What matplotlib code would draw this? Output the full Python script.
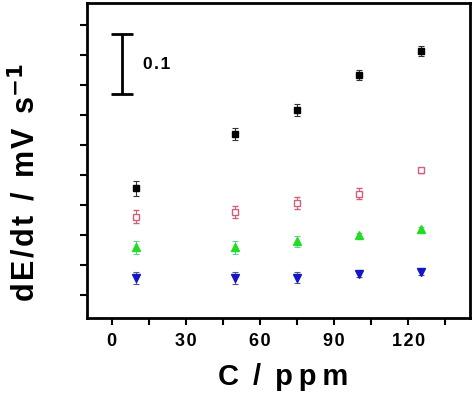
import numpy as np
import matplotlib
matplotlib.use("Agg")
import matplotlib.pyplot as plt

plt.rcParams['font.family'] = ['Liberation Sans', 'DejaVu Sans']
plt.rcParams['font.weight'] = 'bold'
plt.rcParams['mathtext.default'] = 'bf'

TS = '\u2009'  # thin space, the original labels are letter-spaced
HS = '\u200a'  # hair space

# concentration (ppm)
conc = [10, 50, 75, 100, 125]

# dE/dt values (arbitrary offset, scale bar = 0.1)
black_sq = [0.228, 0.318, 0.358, 0.417, 0.457]
black_err = [0.012, 0.010, 0.010, 0.009, 0.008]
red_sq = [0.181, 0.189, 0.204, 0.219, 0.258]
red_err = [0.011, 0.010, 0.010, 0.009, 0.004]
green_up = [0.130, 0.130, 0.140, 0.150, 0.160]
green_err = [0.011, 0.011, 0.009, 0.004, 0.004]
blue_dn = [0.079, 0.079, 0.079, 0.085, 0.088]
blue_err = [0.010, 0.010, 0.009, 0.005, 0.005]

xticks = [0, 30, 60, 90, 120]
xtick_labels = ['0', '30', '60', '90', '120']

fig = plt.figure(figsize=(4.74, 3.94), dpi=100)
ax = fig.add_axes([0.1835, 0.1929, 0.8081, 0.7995])

ax.errorbar(conc, black_sq, yerr=black_err, fmt='s', color='black', ms=5,
            ecolor='#333333', elinewidth=0.8, capsize=2.5, capthick=0.8)
ax.errorbar(conc, red_sq, yerr=red_err, fmt='s', mfc='white', mec='#d0607a', ms=5,
            mew=1.0, ecolor='#d0607a', elinewidth=0.8, capsize=2.5, capthick=0.8)
ax.errorbar(conc, green_up, yerr=green_err, fmt='^', color='#22dd22', ms=6,
            ecolor='#66cc99', elinewidth=0.8, capsize=2.5, capthick=0.8)
ax.errorbar(conc, blue_dn, yerr=blue_err, fmt='v', color='#1515c8', ms=6,
            ecolor='#555588', elinewidth=0.8, capsize=2.5, capthick=0.8)

# scale bar
ax.errorbar([4.3], [0.435], yerr=[0.05], fmt='none', ecolor='black',
            elinewidth=2, capsize=8, capthick=2)
ax.text(12.5, 0.435, HS.join('0.1'), fontsize=12.5, fontweight='bold',
        va='center', ha='left')

ax.set_xlim(-10, 145)
ax.set_ylim(0.012, 0.537)
ax.set_xticks(xticks)
ax.set_xticklabels([HS.join(t) for t in xtick_labels])
ax.set_xticks([15, 45, 75, 105, 135], minor=True)
ax.set_yticks(np.arange(0.05, 0.51, 0.05))
ax.set_yticklabels([])

for s in ax.spines.values():
    s.set_linewidth(2)
ax.tick_params(axis='both', which='both', direction='out', length=5, width=1.5,
               labelsize=13)
ax.tick_params(axis='x', pad=6)

ax.set_xlabel(TS.join('C') + ' ' + TS + '/' + TS + ' ' + TS.join('ppm'),
              fontsize=21, fontweight='bold')
ax.xaxis.set_label_coords(0.512, -0.143)
ylab = HS.join('dE/dt') + ' ' + TS + '/' + TS + ' ' + HS.join('mV') + ' ' + TS + 's'
ax.set_ylabel(ylab + r'$^{-1}$', fontsize=22, fontweight='bold')
ax.yaxis.set_label_coords(-0.117, 0.43)

fig.savefig('out.png', dpi=100)
